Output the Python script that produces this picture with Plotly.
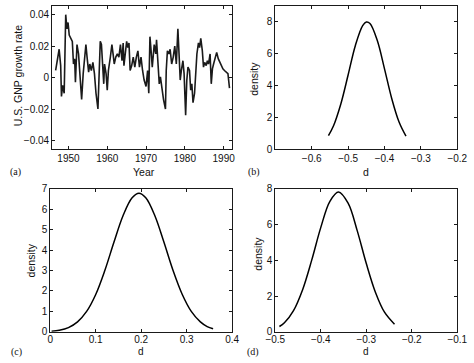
import plotly.graph_objects as go

# ---- Panel (a): U.S. GNP growth rate ----
gnp_year = [1946.7, 1947.0, 1947.3, 1947.6, 1948.0, 1948.2, 1948.5, 1948.9, 1949.0, 1949.3,
            1949.6, 1949.9, 1950.2, 1950.6, 1951.0, 1951.3, 1951.6, 1951.8, 1952.2, 1952.6,
            1953.0, 1953.4, 1953.8, 1954.3, 1954.5, 1954.8, 1955.2, 1955.5, 1955.9, 1956.3,
            1956.7, 1957.1, 1957.6, 1957.8, 1958.2, 1958.5, 1958.8, 1959.1, 1959.3, 1959.7,
            1960.0, 1960.3, 1960.8, 1961.2, 1961.5, 1961.8, 1962.2, 1962.6, 1963.0, 1963.4,
            1963.8, 1964.1, 1964.3, 1964.6, 1965.0, 1965.3, 1965.6, 1965.9, 1966.3, 1966.7,
            1967.1, 1967.5, 1967.9, 1968.3, 1968.7, 1969.1, 1969.5, 1970.0, 1970.4, 1970.7,
            1971.0, 1971.3, 1971.6, 1972.1, 1972.5, 1972.7, 1973.1, 1973.4, 1973.7, 1974.1,
            1974.5, 1975.0, 1975.2, 1975.5, 1975.9, 1976.2, 1976.6, 1977.0, 1977.4, 1977.8,
            1978.2, 1978.5, 1978.8, 1979.1, 1979.5, 1979.8, 1980.2, 1980.5, 1980.8, 1981.2,
            1981.5, 1981.8, 1982.1, 1982.5, 1982.8, 1983.1, 1983.5, 1983.8, 1984.1, 1984.5,
            1984.8, 1985.1, 1985.5, 1985.8, 1986.1, 1986.5, 1986.8, 1987.1, 1987.4, 1987.8,
            1988.2, 1988.6, 1989.0, 1989.4, 1989.8, 1990.2, 1990.7, 1991.1, 1991.5]
gnp_rate = [0.0045, 0.0086, 0.012, 0.018, 0.0076, -0.012, -0.005, -0.010, 0.0025, 0.040,
            0.031, 0.035, 0.027, 0.025, 0.023, 0.0086, 0.012, -0.003, 0.021, 0.015,
            -0.004, -0.014, 0.0025, 0.017, 0.021, 0.013, 0.0035, 0.0086, 0.0045, 0.0096,
            0.0025, -0.010, -0.020, -0.0057, 0.023, 0.021, 0.0045, -0.004, 0.0086, 0.0025,
            -0.008, 0.0045, 0.013, 0.021, 0.015, 0.0086, 0.013, 0.015, 0.013, 0.021,
            0.0107, 0.022, 0.0076, 0.015, 0.023, 0.019, 0.022, 0.0045, 0.0076, 0.013,
            0.0066, 0.013, 0.017, 0.0066, 0.013, 0.0045, -0.0016, -0.0057, 0.0045, -0.010,
            0.026, 0.017, 0.0066, 0.021, 0.015, 0.024, 0.0086, -0.004, 0.0004, -0.008,
            -0.014, -0.020, 0.0045, 0.017, 0.015, 0.018, 0.0086, 0.013, 0.020, 0.0086,
            0.031, 0.015, -0.0016, 0.0045, 0.0107, 0.0025, -0.024, -0.0016, 0.0066, 0.0045,
            -0.008, -0.004, -0.016, -0.010, 0.0004, 0.015, 0.022, 0.019, 0.025, 0.017,
            0.0066, 0.0096, 0.0076, 0.0107, 0.0086, 0.015, -0.004, 0.0055, 0.0086, 0.013,
            0.016, 0.012, 0.0096, 0.0076, 0.0055, 0.0045, 0.0035, 0.0025, -0.0067]
gnp_yticks = [-0.04, -0.02, 0, 0.02, 0.04]
gnp_yticktext = ["−0.04", "−0.02", "0", "0.02", "0.04"]

# ---- Panel (b) density ----
b_d = [-0.554, -0.54, -0.52, -0.50, -0.48, -0.46, -0.45, -0.44, -0.42, -0.40, -0.38, -0.36, -0.341]
b_dens = [0.85, 1.47, 2.84, 4.66, 6.52, 7.77, 7.99, 7.90, 6.84, 5.05, 3.17, 1.70, 0.81]

# ---- Panel (c) density ----
c_d = [0.003, 0.02, 0.04, 0.06, 0.08, 0.10, 0.12, 0.14, 0.16, 0.18, 0.195, 0.21, 0.23,
       0.25, 0.27, 0.29, 0.31, 0.33, 0.345, 0.358]
c_dens = [0.03, 0.08, 0.21, 0.49, 1.00, 1.83, 3.00, 4.38, 5.68, 6.56, 6.78, 6.56, 5.68,
          4.38, 3.00, 1.84, 1.00, 0.49, 0.26, 0.15]

# ---- Panel (d) density ----
d_d = [-0.491, -0.48, -0.46, -0.44, -0.42, -0.40, -0.38, -0.361, -0.34, -0.32, -0.30,
       -0.28, -0.26, -0.238]
d_dens = [0.30, 0.51, 1.19, 2.36, 4.01, 5.84, 7.30, 7.82, 7.19, 5.66, 3.82, 2.22, 1.10, 0.43]

W, H = 474, 363
def fx(px):
    return px / W
def fy(py):
    return 1 - py / H

LINE = "#1a1a1a"
SANSFAM = "Liberation Sans, Arial, sans-serif"
TICKFONT = dict(family=SANSFAM, size=10, color="#111")

fig = go.Figure()
fig.add_trace(go.Scatter(x=gnp_year, y=gnp_rate, mode="lines", xaxis="x", yaxis="y",
                         line=dict(color="#1a1a1a", width=1.6), showlegend=False))
fig.add_trace(go.Scatter(x=b_d, y=b_dens, mode="lines", xaxis="x2", yaxis="y2",
                         line=dict(color="black", width=1.5, shape="spline"), showlegend=False))
fig.add_trace(go.Scatter(x=c_d, y=c_dens, mode="lines", xaxis="x3", yaxis="y3",
                         line=dict(color="black", width=1.5, shape="spline"), showlegend=False))
fig.add_trace(go.Scatter(x=d_d, y=d_dens, mode="lines", xaxis="x4", yaxis="y4",
                         line=dict(color="black", width=1.5, shape="spline"), showlegend=False))

def ax(domain, rng, tickvals, anchor, ticktext=None, standoff=None):
    d = dict(domain=domain, range=rng, tickvals=tickvals, anchor=anchor,
             showline=True, linecolor=LINE, linewidth=1, mirror="ticks",
             ticks="inside", ticklen=3, tickcolor=LINE, showgrid=False,
             zeroline=False, tickfont=TICKFONT, fixedrange=True)
    if ticktext is not None:
        d["ticktext"] = ticktext
    if standoff is not None:
        d["ticklabelstandoff"] = standoff
    return d

top_y = [fy(148), 1.0]
bot_y = [fy(337), fy(189)]
left_x = [fx(44), fx(232)]
left_xc = [fx(42), fx(232)]
right_x = [fx(277), fx(467)]

fig.update_layout(
    width=W, height=H, margin=dict(l=0, r=0, t=0, b=0),
    paper_bgcolor="white", plot_bgcolor="white",
    xaxis=ax(left_x, [1945.8, 1992.2], [1950, 1960, 1970, 1980, 1990], "y"),
    yaxis=ax(top_y, [-0.0455, 0.0455], gnp_yticks, "x", gnp_yticktext),
    xaxis2=ax(right_x, [-0.7, -0.2], [-0.6, -0.5, -0.4, -0.3, -0.2], "y2"),
    yaxis2=ax(top_y, [0, 9], [0, 2, 4, 6, 8], "x2"),
    xaxis3=ax(left_xc, [0, 0.4], [0, 0.1, 0.2, 0.3, 0.4], "y3", standoff=-2),
    yaxis3=ax(bot_y, [0, 7], [0, 1, 2, 3, 4, 5, 6, 7], "x3"),
    xaxis4=ax(right_x, [-0.5, -0.1], [-0.5, -0.4, -0.3, -0.2, -0.1], "y4", standoff=-2),
    yaxis4=ax(bot_y, [0, 8], [0, 2, 4, 6, 8], "x4"),
)

SANS = dict(family=SANSFAM, size=10.5, color="#111")
SANS_B = dict(family=SANSFAM, size=10, color="#111")
SERIF = dict(family="Liberation Serif, Times New Roman, serif", size=10, color="#111")

def ann(text, x, y, font, angle=0):
    fig.add_annotation(text=text, x=fx(x), y=fy(y), xref="paper", yref="paper",
                       showarrow=False, font=font, textangle=angle,
                       xanchor="center", yanchor="middle")

ann("Year", 140, 172, SANS)
ann("U.S. GNP growth rate", 8, 72, SANS, -90)
ann("(a)", 6, 172, SERIF)
ann("d", 372, 172, SANS)
ann("density", 254, 75, SANS, -90)
ann("(b)", 255, 172, SERIF)
ann("d", 137, 357.5, SANS_B)
ann("density", 22, 263, SANS, -90)
ann("(c)", 7, 357.5, SERIF)
ann("d", 372, 357.5, SANS_B)
ann("density", 258, 256, SANS, -90)
ann("(d)", 254, 357.5, SERIF)

fig.write_html("out.html", config={"displayModeBar": False},
               post_script="document.body.style.margin='0';document.body.style.overflow='hidden';")
